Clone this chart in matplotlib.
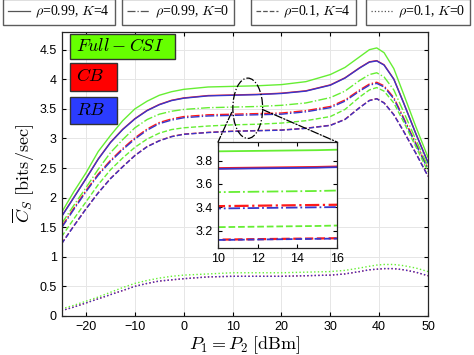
import matplotlib
matplotlib.use("Agg")
import matplotlib.pyplot as plt
from matplotlib.patches import Ellipse, Rectangle, ConnectionPatch
from matplotlib.lines import Line2D

plt.rcParams['font.family'] = ['Liberation Sans', 'DejaVu Sans']
plt.rcParams['mathtext.fontset'] = 'cm'

# transmit power P1 = P2 [dBm]
p_dbm = [-25, -22.5, -20, -17.5, -15, -12.5, -10, -7.5, -5, -2.5, 0, 5, 10, 15, 20, 25,
         30, 33, 36, 38, 39.5, 41, 43, 45, 47.5, 50]

# Full-CSI
full_099_k4 = [1.75, 2.10, 2.42, 2.78, 3.05, 3.30, 3.50, 3.63, 3.73, 3.79, 3.83, 3.87, 3.88, 3.89,
               3.91, 3.96, 4.08, 4.20, 4.38, 4.50, 4.53, 4.45, 4.18, 3.75, 3.20, 2.68]
full_099_k0 = [1.56, 1.87, 2.17, 2.48, 2.76, 2.98, 3.18, 3.32, 3.41, 3.46, 3.49, 3.52, 3.53, 3.54,
               3.56, 3.60, 3.69, 3.80, 3.98, 4.08, 4.11, 4.04, 3.82, 3.45, 2.98, 2.53]
full_01_k4 = [1.34, 1.64, 1.93, 2.22, 2.47, 2.67, 2.85, 2.99, 3.09, 3.15, 3.18, 3.21, 3.23, 3.24,
              3.26, 3.30, 3.37, 3.49, 3.70, 3.82, 3.86, 3.80, 3.60, 3.28, 2.86, 2.44]
full_01_k0 = [0.12, 0.18, 0.25, 0.32, 0.40, 0.48, 0.55, 0.60, 0.64, 0.67, 0.69, 0.71, 0.73, 0.73,
              0.73, 0.74, 0.75, 0.77, 0.81, 0.84, 0.86, 0.87, 0.87, 0.85, 0.81, 0.75]

# CB
cb_099_k4 = [1.685, 2.005, 2.325, 2.655, 2.935, 3.155, 3.335, 3.475, 3.575, 3.645, 3.685, 3.725,
             3.735, 3.745, 3.765, 3.805, 3.905, 4.025, 4.195, 4.295, 4.315, 4.245, 4.005, 3.605,
             3.085, 2.595]
cb_099_k0 = [1.51, 1.82, 2.12, 2.40, 2.63, 2.83, 3.01, 3.16, 3.27, 3.33, 3.37, 3.40, 3.41, 3.42,
             3.43, 3.47, 3.54, 3.65, 3.82, 3.92, 3.95, 3.89, 3.69, 3.35, 2.92, 2.50]
cb_01_k4 = [1.223, 1.523, 1.813, 2.083, 2.323, 2.523, 2.713, 2.863, 2.963, 3.033, 3.073, 3.103,
            3.123, 3.133, 3.143, 3.173, 3.223, 3.323, 3.523, 3.643, 3.673, 3.603, 3.403, 3.123,
            2.753, 2.363]
cb_01_k0 = [0.09, 0.15, 0.22, 0.29, 0.36, 0.43, 0.50, 0.55, 0.59, 0.61, 0.63, 0.66, 0.67, 0.67,
            0.67, 0.68, 0.69, 0.71, 0.75, 0.78, 0.79, 0.80, 0.80, 0.78, 0.74, 0.68]

# RB
rb_099_k4 = [1.68, 2.00, 2.32, 2.65, 2.93, 3.15, 3.33, 3.47, 3.57, 3.64, 3.68, 3.72, 3.73, 3.74,
             3.76, 3.80, 3.90, 4.02, 4.19, 4.29, 4.31, 4.24, 4.00, 3.60, 3.08, 2.59]
rb_099_k0 = [1.49, 1.80, 2.10, 2.38, 2.61, 2.81, 2.99, 3.14, 3.25, 3.31, 3.35, 3.38, 3.39, 3.40,
             3.41, 3.45, 3.52, 3.63, 3.80, 3.90, 3.93, 3.87, 3.67, 3.33, 2.90, 2.48]
rb_01_k4 = [1.22, 1.52, 1.81, 2.08, 2.32, 2.52, 2.71, 2.86, 2.96, 3.03, 3.07, 3.10, 3.12, 3.13,
            3.14, 3.17, 3.22, 3.32, 3.52, 3.64, 3.67, 3.60, 3.40, 3.12, 2.75, 2.36]
rb_01_k0 = [0.09, 0.15, 0.22, 0.29, 0.36, 0.43, 0.50, 0.55, 0.59, 0.61, 0.63, 0.66, 0.67, 0.67,
            0.67, 0.68, 0.69, 0.71, 0.75, 0.78, 0.79, 0.80, 0.80, 0.78, 0.74, 0.68]

legend_labels = [r'$\rho$=0.99, $K$=4', r'$\rho$=0.99, $K$=0',
                 r'$\rho$=0.1, $K$=4', r'$\rho$=0.1, $K$=0']
styles = ['-', '-.', '--', ':']

green = '#66ee33'
red = '#ff1a1a'
blue = '#3636cc'

schemes = [
    (red, [cb_099_k4, cb_099_k0, cb_01_k4, cb_01_k0]),
    (blue, [rb_099_k4, rb_099_k0, rb_01_k4, rb_01_k0]),
    (green, [full_099_k4, full_099_k0, full_01_k4, full_01_k0]),
]

fig = plt.figure(figsize=(4.74, 3.55), dpi=100)
ax = fig.add_axes([0.13, 0.11, 0.773, 0.80])

for color, curves in schemes:
    for ls, vals in zip(styles, curves):
        ax.plot(p_dbm, vals, color=color, ls=ls, lw=1.0)

ax.set_xlim(-25, 50)
ax.set_ylim(0, 4.8)
ax.set_xticks([-20, -10, 0, 10, 20, 30, 40, 50])
ax.set_yticks([0, 0.5, 1, 1.5, 2, 2.5, 3, 3.5, 4, 4.5])
ax.set_yticklabels(['0', '0.5', '1', '1.5', '2', '2.5', '3', '3.5', '4', '4.5'])
ax.grid(True, color='#e6e6e6', lw=0.7)
ax.set_axisbelow(True)
ax.tick_params(direction='in', top=True, right=True, labelsize=9, length=3, width=0.8)
for s in ax.spines.values():
    s.set_color('#262626')
    s.set_linewidth(0.9)
ax.set_xlabel(r'$P_1 = P_2\ \mathrm{[dBm]}$', fontsize=13, labelpad=1)
ax.set_ylabel(r'$\overline{C}_S\ \mathrm{[bits/sec]}$', fontsize=13, labelpad=2)

# scheme labels
boxes = [(0.023, 0.905, 0.287, 0.088, '#66ff00', r'$Full-CSI$'),
         (0.023, 0.792, 0.128, 0.099, '#ff0000', r'$CB$'),
         (0.023, 0.676, 0.128, 0.095, '#2b3cff', r'$RB$')]
for bx, by, bw, bh, fc, txt in boxes:
    ax.add_patch(Rectangle((bx, by), bw, bh, transform=ax.transAxes, fc=fc, ec='#333333',
                           lw=1.0, zorder=5))
    ax.text(bx + 0.015, by + bh / 2, txt, transform=ax.transAxes, fontsize=13, va='center',
            ha='left', zorder=6)

# zoom ellipse
ax.add_patch(Ellipse((13.1, 3.51), 6.1, 1.02, fill=False, ec='black', ls='-.', lw=0.9, zorder=4))

# inset
axin = fig.add_axes([0.46, 0.301, 0.251, 0.299])
for color, curves in schemes:
    for ls, vals in zip(styles[:3], curves[:3]):
        axin.plot(p_dbm, vals, color=color, ls=ls, lw=1.6 if color == red else 1.3)
axin.set_xlim(10, 16)
axin.set_ylim(3.05, 3.96)
axin.set_xticks([10, 12, 14, 16])
axin.set_yticks([3.2, 3.4, 3.6, 3.8])
axin.tick_params(direction='in', top=True, right=True, labelsize=9, length=3, width=0.8)
for s in axin.spines.values():
    s.set_color('#262626')
    s.set_linewidth(0.9)

for xa, ya, xb in [(9.8, 3.44, 0), (16.1, 3.49, 1)]:
    con = ConnectionPatch(xyA=(xa, ya), coordsA=ax.transData, xyB=(xb, 1), coordsB=axin.transAxes,
                          color='black', ls='-.', lw=0.9)
    fig.add_artist(con)

# legend boxes on top
centers = [0.124, 0.376, 0.64, 0.882]
for c, lab, ls in zip(centers, legend_labels, styles):
    h = Line2D([], [], color='#555555', ls=ls, lw=0.9)
    fig.legend([h], [lab], loc='center', bbox_to_anchor=(c, 0.966),
               prop={'family': ['Liberation Serif'], 'size': 10}, frameon=True,
               fancybox=False, edgecolor='#333333', handlelength=1.6, handletextpad=0.4,
               borderpad=0.35, borderaxespad=0)

fig.savefig('out.png', dpi=100)
